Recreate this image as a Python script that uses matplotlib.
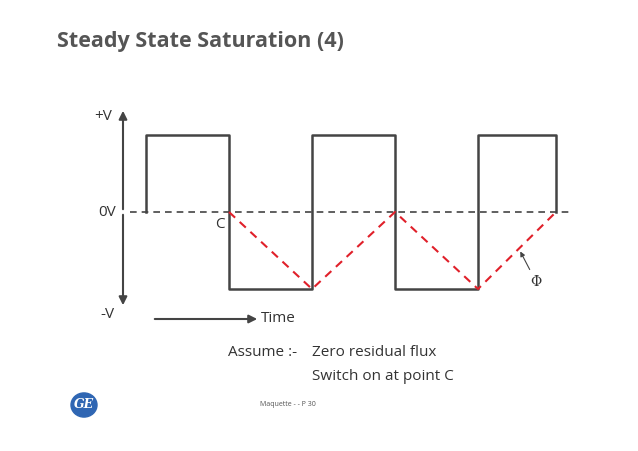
import matplotlib
matplotlib.use("Agg")
import matplotlib.pyplot as plt
from matplotlib.patches import Circle

plt.rcParams['font.family'] = ['Open Sans', 'DejaVu Sans']

# square wave (time in half-periods, voltage in units of V)
wave_t = [0, 0, 1, 1, 2, 2, 3, 3, 4, 4, 4.94, 4.94]
wave_v = [0, 1, 1, -1, -1, 1, 1, -1, -1, 1, 1, 0]
# flux, switched on at point C
flux_t = [1, 2, 3, 4, 4.94]
flux_v = [0, -1, 0, -1, 0]

fig = plt.figure(figsize=(6.38, 4.51), dpi=100)
ax = fig.add_axes([0, 0, 1, 1])
# pixel mapping: x = 146 + 83 t, y = 212 - 77 v
ax.set_xlim(-146 / 83, 492 / 83)
ax.set_ylim(-239 / 77, 212 / 77)
ax.axis('off')

def px(x, y):
    return (x - 146) / 83, (212 - y) / 77

grey = '#444444'
ax.plot(wave_t, wave_v, color=grey, lw=1.8)
ax.plot([px(130, 0)[0], px(572, 0)[0]], [0, 0], color=grey, lw=1.2, ls=(0, (4, 3)))
ax.plot(flux_t, flux_v, color='#e0202a', lw=1.5, ls=(0, (4, 3)))

# voltage axis with double arrow
ax.annotate('', xy=px(123, 108), xytext=px(123, 212),
            arrowprops=dict(arrowstyle='-|>', color=grey, lw=1.5, mutation_scale=12))
ax.annotate('', xy=px(123, 308), xytext=px(123, 212),
            arrowprops=dict(arrowstyle='-|>', color=grey, lw=1.5, mutation_scale=12))
# time arrow
ax.annotate('', xy=px(260, 319), xytext=px(152, 319),
            arrowprops=dict(arrowstyle='-|>', color=grey, lw=1.5, mutation_scale=12))
# flux pointer
ax.annotate('', xy=px(519, 249), xytext=px(531, 272),
            arrowprops=dict(arrowstyle='-|>', color=grey, lw=0.8, mutation_scale=7))

txt = dict(color='#333333', fontsize=11, va='center')
ax.text(*px(94, 117), '+V', **txt)
ax.text(*px(98, 213), '0V', **txt)
ax.text(*px(100, 314), '-V', **txt)
ax.text(*px(261, 319), 'Time', **txt)
ax.text(*px(215, 224), 'C', **txt)
ax.text(*px(530, 282), 'Φ', color='#333333', fontsize=10, va='center', family='DejaVu Serif')
ax.text(*px(228, 352), 'Assume :-', **txt)
ax.text(*px(312, 352), 'Zero residual flux', **txt)
ax.text(*px(312, 376), 'Switch on at point C', **txt)

ax.text(*px(57, 42), 'Steady State Saturation (4)', color='#555555', fontsize=15.5,
        fontweight='bold', va='center')
ax.text(*px(288, 405), 'Maquette - - P 30', color='#555555', fontsize=5, ha='center', va='center')

# GE logo
c = px(84, 405)
ax.add_patch(Circle(c, 13 / 83, transform=ax.transData, color='#2f66b3'))
ax.text(*c, 'GE', color='white', fontsize=9, style='italic', fontweight='bold',
        ha='center', va='center', family='DejaVu Serif')

fig.savefig('out.png', dpi=100)
